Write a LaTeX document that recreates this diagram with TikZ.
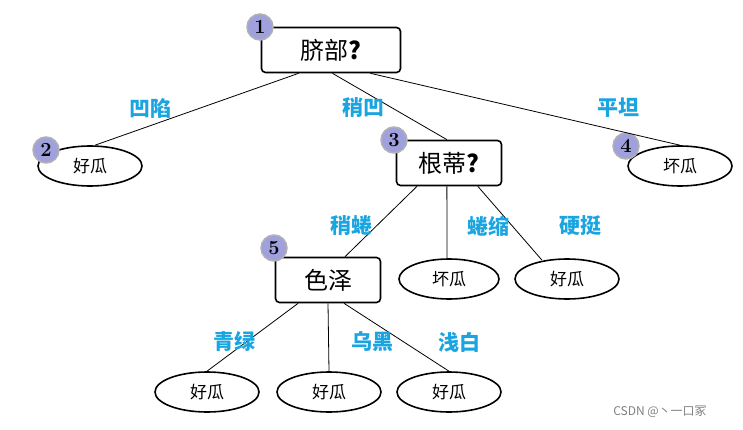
\documentclass[tikz,border=0pt]{standalone}
\usepackage{fontspec}
\newfontfamily\cjk{Noto Sans CJK SC}
\usetikzlibrary{calc}
\definecolor{lab}{HTML}{1BA5E0}
\definecolor{numfill}{HTML}{A0A0DC}
\begin{document}
\begin{tikzpicture}[x=1pt,y=-1pt,
 box/.style={draw,line width=1.6pt,rounded corners=4pt,minimum width=105pt,minimum height=45pt,inner sep=0pt,font=\cjk\fontsize{24}{24}\selectfont},
 leaf/.style={draw,line width=1.6pt,ellipse,minimum width=104pt,minimum height=40pt,inner sep=0pt,font=\cjk\fontsize{17}{17}\selectfont},
 num/.style={circle,fill=numfill,draw=gray!60,line width=1.5pt,minimum size=26pt,inner sep=0pt,font=\bfseries\fontsize{20}{20}\selectfont},
 lbl/.style={text=lab,font=\cjk\bfseries\fontsize{21}{21}\selectfont},
 edge/.style={line width=0.8pt}]
\useasboundingbox (0,0) rectangle (743,430);
\usetikzlibrary{shapes.geometric}
\node[box,minimum width=139pt] (root) at (331,50) {脐部\textbf{?}};
\node[box] (b3) at (449,163) {根蒂\textbf{?}};
\node[box] (b5) at (328,280) {色泽};
\node[leaf] (e2) at (90,166) {好瓜};
\node[leaf] (e4) at (680,166) {坏瓜};
\node[leaf,minimum width=100pt] (e6) at (449,279) {坏瓜};
\node[leaf] (e7) at (567,279) {好瓜};
\node[leaf] (e8) at (207,392) {好瓜};
\node[leaf] (e9) at (329,392) {好瓜};
\node[leaf] (e10) at (449,392) {好瓜};
\node[num] (n1) at (260,27) {1};
\node[num] (n2) at (46,150) {2};
\node[num] (n3) at (394,140) {3};
\node[num] (n4) at (626,146) {4};
\node[num] (n5) at (274,248) {5};
\draw[edge] ($(root.south west)!0.27!(root.south east)$) -- ($(e2.north)+(5,0)$);
\draw[edge] ($(root.south west)!0.51!(root.south east)$) -- ($(b3.north)+(-2,0)$);
\draw[edge] ($(root.south west)!0.78!(root.south east)$) -- (e4.north);
\draw[edge] ($(b3.south west)!0.2!(b3.south east)$) -- ($(b5.north)+(17,0)$);
\draw[edge] ($(b3.south west)!0.48!(b3.south east)$) -- ($(e6.north)+(-2,0)$);
\draw[edge] ($(b3.south west)!0.77!(b3.south east)$) -- ($(e7.north)+(-25,2)$);
\draw[edge] ($(b5.south west)!0.22!(b5.south east)$) -- (e8.north);
\draw[edge] ($(b5.south west)!0.5!(b5.south east)$) -- (e9.north);
\draw[edge] ($(b5.south west)!0.65!(b5.south east)$) -- (e10.north);
\node[lbl] (l1) at (150,108) {凹陷};
\node[lbl] (l2) at (363,108) {稍凹};
\node[lbl] (l3) at (618,108) {平坦};
\node[lbl] (l4) at (351,226) {稍蜷};
\node[lbl] (l5) at (488,226) {蜷缩};
\node[lbl] (l6) at (580,226) {硬挺};
\node[lbl] (l7) at (234,342) {青绿};
\node[lbl] (l8) at (372,342) {乌黑};
\node[lbl] (l9) at (459,342) {浅白};
\node[text=gray,font=\cjk\fontsize{12}{12}\selectfont] (wm) at (660,412) {CSDN @丶一口冢};
\end{tikzpicture}
\end{document}
